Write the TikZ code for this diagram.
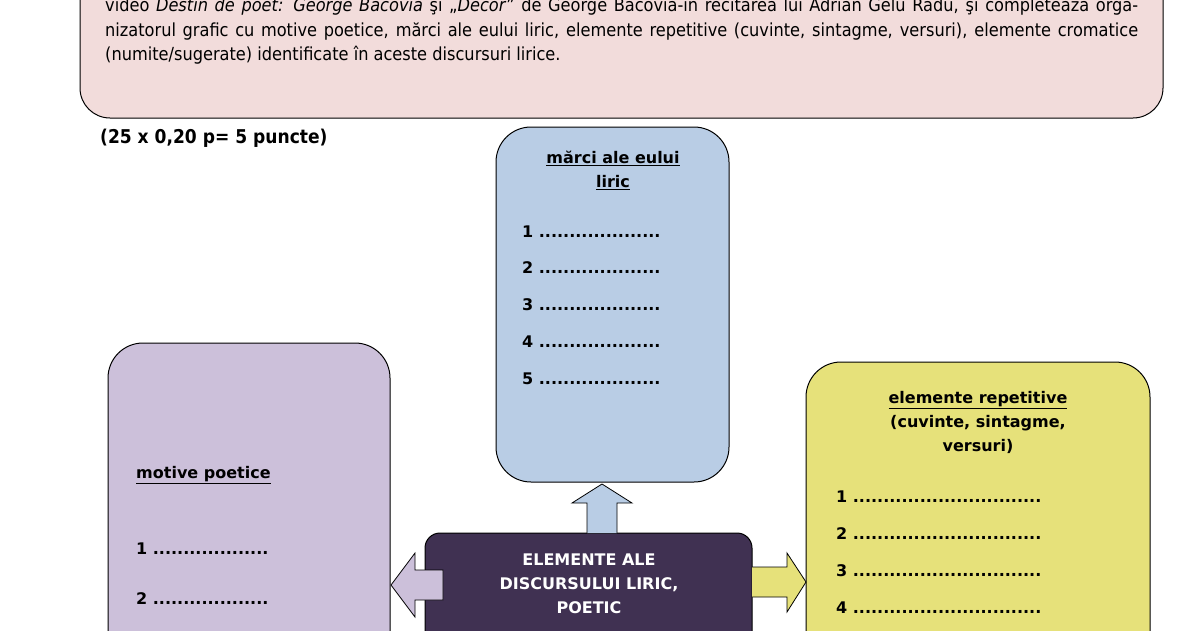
\documentclass[tikz,border=0pt]{standalone}
\usepackage{fontspec}
\setmainfont{DejaVu Sans}
\newfontfamily\condf{DejaVu Sans Condensed}
\newcommand\myul[1]{\underline{#1}}
\definecolor{pinkbg}{HTML}{F2DCDB}
\definecolor{bluebg}{HTML}{B9CDE5}
\definecolor{purpbg}{HTML}{CCC0DA}
\definecolor{yellbg}{HTML}{E6E17A}
\definecolor{darkbg}{HTML}{403152}
\tikzset{
 panel/.style={draw=black, line width=1pt, rounded corners=30pt},
 lbl/.style={font=\fontsize{16}{20}\selectfont\bfseries, anchor=west, inner sep=0pt},
 ttl/.style={font=\fontsize{16}{24}\selectfont\bfseries, align=center, inner sep=0pt},
 arr/.style={draw=black, line width=0.8pt}
}
\begin{document}
\begin{tikzpicture}[x=1pt,y=-1pt]
\useasboundingbox (0,0) rectangle (1200,630);
\clip (0,0) rectangle (1200,630);
% top box
\draw[panel, fill=pinkbg] (80,-40) rectangle (1163,118);
\node (intro) [anchor=north west, inner sep=0pt, text width=1033pt, align=justify,
  font=\condf\fontsize{18}{24.5}\selectfont] at (105,-3)
 {video \textit{Destin de poet: George Bacovia} şi „\textit{Decor}” de George Bacovia-în recitarea lui Adrian Gelu Radu, şi completează organizatorul grafic cu motive poetice, mărci ale eului liric, elemente repetitive (cuvinte, sintagme, versuri), elemente cromatice (numite/sugerate) identificate în aceste discursuri lirice.};
\node (pct) [lbl, font=\condf\fontsize{19}{22}\selectfont\bfseries] at (100,138) {(25 x 0,20 p= 5 puncte)};
% blue
\draw[panel, fill=bluebg, rounded corners=35pt] (496,127) rectangle (729,482);
\node (bt) [ttl] at (613,170) {\myul{mărci ale eului}\\\myul{liric}};
\foreach \i/\y in {1/232,2/268,3/305,4/342,5/379}
  \node (b\i) [lbl] at (522,\y) {\i\ ....................};
% purple
\draw[panel, fill=purpbg, rounded corners=35pt] (108,343) rectangle (390,700);
\node (pt) [lbl] at (136,475) {\myul{motive poetice}};
\node (p1) [lbl] at (136,549) {1 ...................};
\node (p2) [lbl] at (136,599) {2 ...................};
% yellow
\draw[panel, fill=yellbg, rounded corners=35pt] (806,362) rectangle (1150,700);
\node (yt) [ttl] at (978,422) {\myul{elemente repetitive}\\(cuvinte, sintagme,\\versuri)};
\foreach \i/\y in {1/497,2/534,3/571,4/608}
  \node (y\i) [lbl] at (836,\y) {\i\ ...............................};
% center
\draw[panel, fill=darkbg, rounded corners=15pt] (425,533) rectangle (752,700);
\node (c) [ttl, text=white] at (589,584) {ELEMENTE ALE\\DISCURSULUI LIRIC,\\POETIC};
% arrows
\draw[arr, fill=bluebg] (587,533) -- (587,503) -- (572,503) -- (602,484) -- (632,503) -- (617,503) -- (617,533);
\draw[arr, fill=purpbg] (443,570) -- (415,570) -- (415,553) -- (391,585) -- (415,617) -- (415,600) -- (443,600) -- cycle;
\draw[arr, fill=yellbg] (752,567) -- (787,567) -- (787,553) -- (806,582) -- (787,612) -- (787,597) -- (752,597);
\end{tikzpicture}
\end{document}
